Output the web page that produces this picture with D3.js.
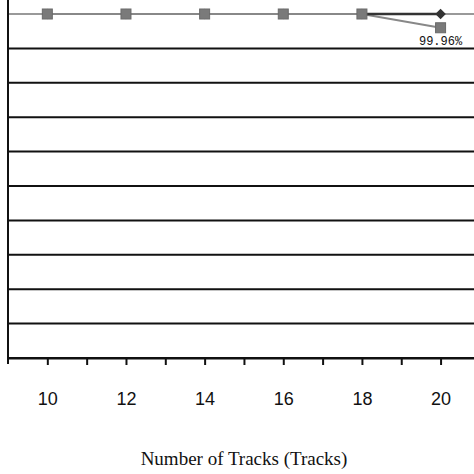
<!DOCTYPE html>
<html>
<head>
<meta charset="utf-8">
<script src="https://cdn.jsdelivr.net/npm/d3@7.9.0/dist/d3.min.js"></script>
<style>body{margin:0;background:#fff}</style>
</head>
<body>
<svg id="chart" width="474" height="474"></svg>
<script>
const tracks = [10, 12, 14, 16, 18, 20];
const seriesDiamond = [100, 100, 100, 100, 100, 100];
const seriesSquare = [100, 100, 100, 100, 100, 99.96];
const xTickLabels = [10, 12, 14, 16, 18, 20];
const yGrid = d3.range(99.0, 100.001, 0.1);

const svg = d3.select('#chart');
const margin = { top: 14, left: 8, bottom: 116 };
const innerH = 474 - margin.top - margin.bottom;

const x = d3.scaleLinear().domain([9, 20.85]).range([margin.left, 474]);
const y = d3.scaleLinear().domain([99, 100]).range([margin.top + innerH, margin.top]);

// gridlines
svg.append('g').selectAll('line').data(yGrid).enter().append('line')
  .attr('x1', margin.left).attr('x2', 474)
  .attr('y1', (d) => y(d)).attr('y2', (d) => y(d))
  .attr('stroke', (d) => (d > 99.99 ? '#999' : '#111'))
  .attr('stroke-width', 2);

// y axis line
svg.append('line')
  .attr('x1', margin.left).attr('x2', margin.left)
  .attr('y1', 0).attr('y2', y(99) + 6)
  .attr('stroke', '#111').attr('stroke-width', 2);

// x axis
const xAxis = svg.append('g')
  .attr('transform', `translate(0,${y(99)})`)
  .call(d3.axisBottom(x).tickValues(d3.range(10, 21)).tickSize(7).tickSizeOuter(0)
    .tickFormat((d) => (xTickLabels.includes(d) ? d : '')));
xAxis.select('.domain').attr('stroke', '#111').attr('stroke-width', 2);
xAxis.selectAll('.tick line').attr('stroke', '#111').attr('stroke-width', 2);
xAxis.selectAll('text')
  .attr('dy', 0).attr('y', 47)
  .attr('fill', '#111')
  .style('font-family', '"Liberation Sans", Arial, sans-serif')
  .style('font-size', '18px');

// series lines
const line = (vals) => d3.line().x((d, i) => x(tracks[i])).y((d) => y(d))(vals);
svg.append('path').attr('d', line(seriesSquare)).attr('fill', 'none')
  .attr('stroke', '#888').attr('stroke-width', 2);
svg.append('path').attr('d', d3.line().x((d, i) => x(tracks[i + 4])).y((d) => y(d))(seriesDiamond.slice(4)))
  .attr('fill', 'none').attr('stroke', '#333').attr('stroke-width', 2.5);

// markers
svg.append('g').selectAll('path').data(seriesDiamond).enter().append('path')
  .attr('d', d3.symbol(d3.symbolDiamond2, 70))
  .attr('transform', (d, i) => `translate(${x(tracks[i])},${y(d)})`)
  .attr('fill', '#333');
svg.append('g').selectAll('rect').data(seriesSquare).enter().append('rect')
  .attr('x', (d, i) => x(tracks[i]) - 5).attr('y', (d) => y(d) - 5)
  .attr('width', 10).attr('height', 10)
  .attr('fill', '#7a7a7a').attr('stroke', '#6a6a6a');

svg.append('text')
  .attr('x', x(20)).attr('y', y(99.96) + 17)
  .attr('text-anchor', 'middle')
  .style('font-family', '"Liberation Mono", monospace').style('font-size', '12px')
  .attr('fill', '#111').text('99.96%');

svg.append('text')
  .attr('x', 244).attr('y', 465)
  .attr('text-anchor', 'middle')
  .style('font-family', '"Liberation Serif", "DejaVu Serif", serif').style('font-size', '19px')
  .attr('fill', '#111').text('Number of Tracks (Tracks)');
</script>
</body>
</html>
